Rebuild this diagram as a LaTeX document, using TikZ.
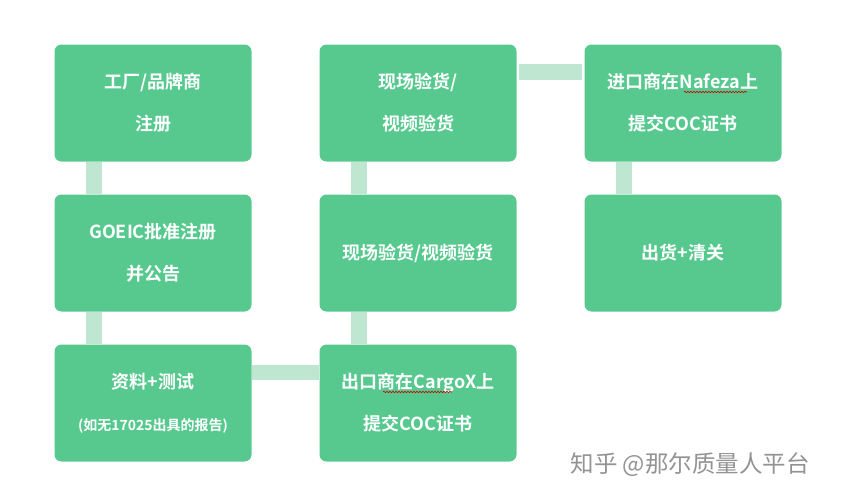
\documentclass[tikz,border=0pt]{standalone}
\usepackage{fontspec}
\newfontfamily\cjk{Noto Sans CJK SC Bold}
\newfontfamily\cjkr{Noto Sans CJK SC}
\usetikzlibrary{decorations.pathmorphing}
\definecolor{boxg}{RGB}{87,201,143}
\definecolor{linkg}{RGB}{190,230,208}
\tikzset{
 box/.style={fill=boxg,rounded corners=7pt,minimum width=197pt,minimum height=117pt,text=white,font=\cjk\fontsize{18}{42}\selectfont,align=center,inner sep=0pt},
 link/.style={fill=linkg,draw=none},
 squig/.style={draw=red!80!black,line width=0.6pt,decorate,decoration={snake,amplitude=0.8pt,segment length=3pt}}
}
\begin{document}
\begin{tikzpicture}[x=1pt,y=-1pt]
\useasboundingbox (0,0) rectangle (843,499);
\node[box] (a) at (153,103) {工厂/品牌商\\注册};
\node[box] (b) at (153,253) {GOEIC批准注册\\并公告};
\node[box] (c) at (153,403) {资料+测试\\{\fontsize{14}{42}\selectfont(如无17025出具的报告)}};
\node[box] (d) at (418,403) {出口商在CargoX上\\提交COC证书};
\node[box] (e) at (418,253) {现场验货/视频验货};
\node[box] (f) at (418,103) {现场验货/\\视频验货};
\node[box] (g) at (683,103) {进口商在Nafeza上\\提交COC证书};
\node[box] (h) at (683,253) {出货+清关};
\fill[link] ([xshift=-67pt]a.south) rectangle ([xshift=-51pt]b.north);
\fill[link] ([xshift=-67pt]b.south) rectangle ([xshift=-51pt]c.north);
\fill[link] ([yshift=38pt]c.east) rectangle ([yshift=23pt]d.west);
\fill[link] ([xshift=-67pt]e.south) rectangle ([xshift=-51pt]d.north);
\fill[link] ([xshift=-67pt]f.south) rectangle ([xshift=-51pt]e.north);
\fill[link] ([yshift=39pt,xshift=2pt]f.east) rectangle ([yshift=23pt,xshift=-2pt]g.west);
\fill[link] ([xshift=-67pt]g.south) rectangle ([xshift=-51pt]h.north);
\draw[squig] (684,92) -- (747,92);
\draw[squig] (383,392) -- (452,392);
\node[text=gray!85,font=\cjkr\fontsize{23.5}{26}\selectfont,anchor=west] (w) at (567,465) {知乎 @那尔质量人平台};
\end{tikzpicture}
\end{document}
